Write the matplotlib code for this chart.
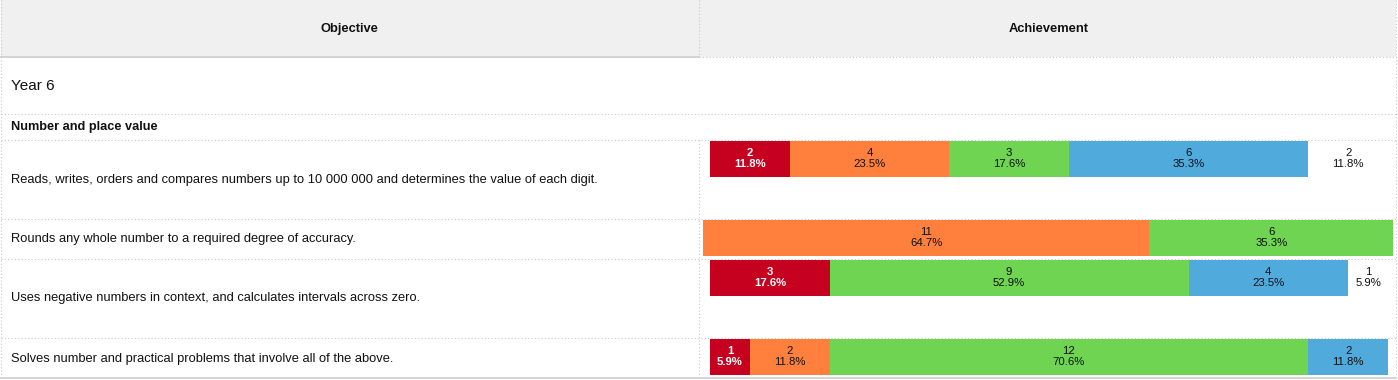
import matplotlib
matplotlib.use("Agg")
import matplotlib.pyplot as plt
from matplotlib.patches import Rectangle

# ---------------------------------------------------------
# Data
# ---------------------------------------------------------
year_label = "Year 6"
section_label = "Number and place value"
objectives = [
    "Reads, writes, orders and compares numbers up to 10 000 000 and determines the value of each digit.",
    "Rounds any whole number to a required degree of accuracy.",
    "Uses negative numbers in context, and calculates intervals across zero.",
    "Solves number and practical problems that involve all of the above.",
]
# counts per achievement level (red, orange, green, blue, none)
level_red = [2, 0, 3, 1]
level_orange = [4, 11, 0, 2]
level_green = [3, 6, 9, 12]
level_blue = [6, 0, 4, 2]
level_none = [2, 0, 1, 0]

level_colors = ["#c6001f", "#ff7f3c", "#70d453", "#50aadc", "#ffffff"]
text_colors = ["white", "#111111", "#111111", "#111111", "#111111"]

# ---------------------------------------------------------
# Layout (pixels)
# ---------------------------------------------------------
W, H = 1398, 380
col_split = 699
header_bottom = 57
row_lines = [114, 140, 219, 259, 338]
bottom_line = 378
text_y = [180, 239, 298, 359]
# bar boxes: x0, x1, y0, y1
bar_boxes = [
    (710, 1388, 141, 177),
    (703, 1393, 220, 256),
    (710, 1388, 260, 296),
    (710, 1388, 339, 375),
]

FONT = "Liberation Sans"
grid_c = "#c8c8c8"
dot = (0, (1, 2))

fig = plt.figure(figsize=(W / 100, H / 100), dpi=100)
ax = fig.add_axes([0, 0, 1, 1])
ax.set_xlim(0, W)
ax.set_ylim(H, 0)
ax.axis("off")

# header
ax.add_patch(Rectangle((1, 0), W - 3, header_bottom, facecolor="#f0f0f0", edgecolor="none"))
ax.text(col_split / 2, 29, "Objective", ha="center", va="center",
        fontsize=9.3, fontweight="bold", family=FONT, color="#111111")
ax.text((col_split + W) / 2, 29, "Achievement", ha="center", va="center",
        fontsize=9.3, fontweight="bold", family=FONT, color="#111111")
ax.plot([1, col_split], [header_bottom, header_bottom], color="#d4d4d4", lw=1.4)
ax.plot([col_split, W - 2], [header_bottom, header_bottom], color=grid_c, lw=0.8, ls=dot)

# outer borders / column divider
ax.plot([1, 1], [0, bottom_line], color=grid_c, lw=0.8, ls=dot)
ax.plot([W - 2, W - 2], [0, bottom_line], color=grid_c, lw=0.8, ls=dot)
ax.plot([col_split, col_split], [0, header_bottom], color=grid_c, lw=0.8, ls=dot)
ax.plot([col_split, col_split], [row_lines[1], bottom_line], color=grid_c, lw=0.8, ls=dot)

# row separators
for y in row_lines:
    ax.plot([1, W - 2], [y, y], color=grid_c, lw=0.8, ls=dot)
ax.plot([1, W - 2], [bottom_line, bottom_line], color="#d4d4d4", lw=1.4)

# row labels
ax.text(11, 86, year_label, ha="left", va="center", fontsize=11, family=FONT, color="#111111")
ax.text(11, 127, section_label, ha="left", va="center", fontsize=9.2,
        fontweight="bold", family=FONT, color="#111111")
for t, y in zip(objectives, text_y):
    ax.text(11, y, t, ha="left", va="center", fontsize=9.3, family=FONT, color="#111111")

# ---------------------------------------------------------
# Stacked bars, one small axes per row
# ---------------------------------------------------------
levels = [level_red, level_orange, level_green, level_blue, level_none]
for i, (x0, x1, y0, y1) in enumerate(bar_boxes):
    counts = [lv[i] for lv in levels]
    total = sum(counts)
    bax = fig.add_axes([x0 / W, 1 - y1 / H, (x1 - x0) / W, (y1 - y0) / H])
    bax.set_xlim(0, total)
    bax.set_ylim(0, 1)
    bax.axis("off")
    left = 0
    for c, fc, tc in zip(counts, level_colors, text_colors):
        if c == 0:
            continue
        bax.barh(0.5, c, left=left, height=1.0, color=fc, edgecolor="none")
        xm = left + c / 2
        bold = "bold" if tc == "white" else "normal"
        bax.text(xm, 0.68, str(c), ha="center", va="center", fontsize=8.2,
                 family=FONT, color=tc, fontweight=bold)
        bax.text(xm, 0.35, f"{100 * c / total:.1f}%", ha="center", va="center",
                 fontsize=8.2, family=FONT, color=tc, fontweight=bold)
        left += c

fig.savefig("out.png", dpi=100)
plt.close(fig)
